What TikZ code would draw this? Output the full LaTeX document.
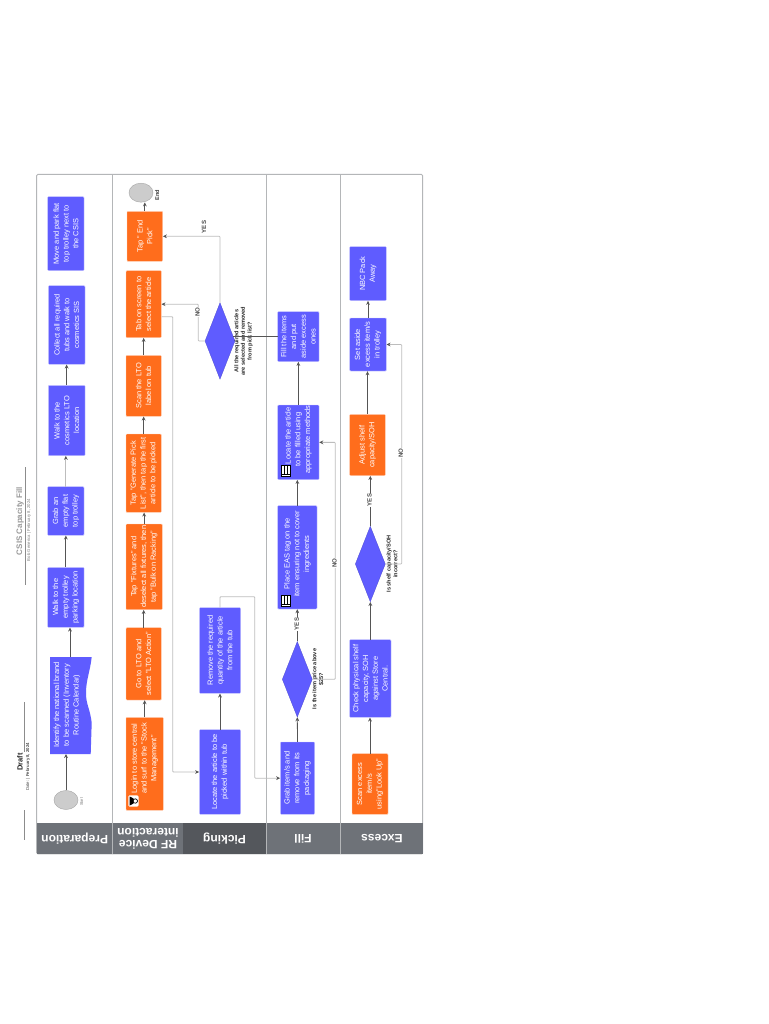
\documentclass[tikz,border=0pt]{standalone}
\usepackage{fontspec}
\setmainfont{Liberation Sans}
\usetikzlibrary{arrows.meta,shapes.geometric}
\definecolor{bluebox}{HTML}{5F5CFF}
\definecolor{orangebox}{HTML}{FF6D1C}
\definecolor{headgrey}{HTML}{6E7278}
\definecolor{headdark}{HTML}{54575C}
\definecolor{lanegrey}{HTML}{B4B6B8}
\definecolor{linegrey}{HTML}{555555}
\definecolor{lightline}{HTML}{BDBDBD}
\newcommand{\pbox}[7]{% name, style, x0,y0,x1,y1, text
  \node[#2,minimum width={(#6-#4)*0.75pt},minimum height={(#5-#3)*0.75pt}] (#1) at ({(#3+#5)/2},{(#4+#6)/2}) {#7};}
\tikzset{
  x=0.75pt,y=-0.75pt,
  boxbase/.style={rectangle,rounded corners=0.6pt,draw=white!70!bluebox,line width=0.3pt,rotate=90,align=center,text=white,font=\fontsize{5.6}{7.3}\selectfont,inner sep=0pt},
  bluenode/.style={boxbase,fill=bluebox},
  orangenode/.style={boxbase,fill=orangebox,draw=white!70!orangebox},
  decision/.style={diamond,aspect=0.4,fill=bluebox,draw=bluebox!80!black,line width=0.2pt,inner sep=0pt,shape aspect=0.39},
  terminal/.style={ellipse,fill=black!20,draw=black!35,line width=0.3pt,inner sep=0pt,minimum width=24*0.75pt,minimum height=19*0.75pt},
  flow/.style={draw=linegrey,line width=0.6pt,-{Stealth[length=3pt,width=2.8pt]},rounded corners=0.6pt},
  flowlight/.style={draw=lightline,line width=0.6pt,-{Stealth[length=3pt,width=2.8pt,color=linegrey]},rounded corners=0.6pt},
  note/.style={rotate=90,align=center,font=\bfseries\fontsize{4.2}{5}\selectfont,text=black!85,inner sep=0pt},
  lab/.style={rotate=90,font=\bfseries\fontsize{4.6}{5.5}\selectfont,text=black!70,inner sep=0.5pt,fill=white},
  head/.style={rectangle,rotate=180,align=center,text=white,font=\bfseries\fontsize{9}{9}\selectfont,inner sep=0pt},
  lane/.style={draw=lanegrey,line width=0.7pt},
  listicon/.style={rectangle,draw=black,fill=white,line width=0.6pt,minimum width=9*0.75pt,minimum height=10.5*0.75pt,inner sep=0pt},
}
\begin{document}
\begin{tikzpicture}
\useasboundingbox[fill=white] (0,0) rectangle (768,1024);
% lanes
\draw[lane,rounded corners=1pt] (36.7,174.3) rectangle (422.7,854);
\draw[lane] (112.7,174.3) -- (112.7,854);
\draw[lane] (266,174.3) -- (266,854);
\draw[lane] (340.7,174.3) -- (340.7,854);
% headers
\fill[headgrey] (37,823) rectangle (112.3,854);
\fill[headgrey] (113.3,823) rectangle (182.5,854);
\fill[headdark] (183.3,823) rectangle (265.7,854);
\fill[headgrey] (266.5,823) rectangle (340.3,854);
\fill[headgrey] (341.2,823) rectangle (422.5,854);
\node[head] (hprep) at (74.7,838.5) {Preparation};
\node[head] (hrf) at (148,838.5) {RF Device\\interaction};
\node[head] (hpick) at (224.5,838.5) {Picking};
\node[head] (hfill) at (303,838.5) {Fill};
\node[head] (hexc) at (382,838.5) {Excess};
% title block
\draw[black!45,line width=0.3pt] (25,467) -- (25,585);
\draw[black!45,line width=0.3pt] (24,702) -- (24,752);
\draw[black!45,line width=0.3pt] (24,810) -- (24,840);
\node[rotate=90,font=\bfseries\fontsize{6}{8}\selectfont,text=black!40,inner sep=0pt] (title) at (20,521) {CSIS Capacity Fill};
\node[rotate=90,font=\fontsize{3.2}{4}\selectfont,text=black!50,inner sep=0pt] (sub) at (29,530) {Bob Generica | February 8, 2024};
\node[rotate=90,font=\bfseries\fontsize{5.6}{7}\selectfont,text=black!85,inner sep=0pt] (draft) at (20,762) {Draft};
\node[rotate=90,font=\fontsize{3.2}{4}\selectfont,text=black!70,inner sep=0pt] (date) at (28,767) {Date: | \textbf{February 8, 2024}};
% Preparation
\node[terminal] (start) at (66,800) {};
\node[rotate=90,font=\fontsize{2.8}{3}\selectfont,text=black!60,inner sep=0pt] (startl) at (81.7,801.7) {Start};
\fill[bluebox] (50,754) -- (90.7,754) -- (91.7,723) .. controls (90,708) and (86,705) .. (86,693) .. controls (86,680) and (90,672) .. (91.7,657) -- (50,657) -- cycle;
\coordinate (doctop) at (70,657);
\coordinate (docbot) at (66,754);
\node[rotate=90,align=center,text=white,font=\fontsize{5.6}{7.3}\selectfont,inner sep=0pt] (doc) at (67,705) {Identify the national brand\\to be scanned (Inventory\\Routine Calendar)};
\pbox{walkempty}{bluenode}{47.7}{567.3}{84}{627.3}{Walk to the\\empty trolley\\parking location}
\pbox{grab}{bluenode}{47.7}{486.7}{84}{535.3}{Grab an\\empty flat\\top trolley}
\pbox{walklto}{bluenode}{48.3}{385.3}{85}{455.7}{Walk to the\\cosmetics LTO\\location}
\pbox{collect}{bluenode}{48.3}{285.7}{85}{364.3}{Collect all required\\tubs and walk to\\cosmetics SIS}
\pbox{move}{bluenode}{47.7}{196.7}{84}{270.7}{Move and park flat\\top trolley next to\\the CSIS}
% RF
\pbox{login}{orangenode}{126}{717.3}{163.3}{810.3}{\hspace*{8pt}Login to store central\\\hspace*{8pt}and surf to the "Stock\\\hspace*{8pt}Management"}
\pbox{goto}{orangenode}{126}{627.7}{161.3}{700}{Go to LTO and\\select "LTO Action"}
\pbox{fixtures}{orangenode}{126}{524}{162.3}{609.7}{Tap "Fixtures" and\\deselect all fixtures, then\\tap "Bulk on Racking"}
\pbox{generate}{orangenode}{126}{434}{161.3}{512.3}{Tap "Generate Pick\\List", then tap the first\\article to be picked}
\pbox{scan}{orangenode}{126}{355.3}{161.3}{416.3}{Scan the LTO\\label on  tub}
\pbox{tapscreen}{orangenode}{126}{270.7}{161.3}{337.7}{Tab on screen to\\select the article}
\pbox{endpick}{orangenode}{127}{211.3}{162.7}{261.3}{Tap " End\\Pick"}
\node[terminal] (endn) at (141,192.7) {};
\node[rotate=90,font=\bfseries\fontsize{4.2}{5}\selectfont,text=black!75,inner sep=0pt] (endl) at (157,195) {End};
% person icon
\fill[white,rounded corners=1pt] (128.3,795.3) rectangle (138.5,806.7);
\fill[black] (129.5,796.5) .. controls (131,797) and (133,798) .. (134,799) -- (134,803) .. controls (133,804) and (131,805) .. (129.5,805.5) -- cycle;
\draw[black,fill=white,line width=0.5pt] (135.3,801) circle[radius=2.2];
% Picking
\pbox{locate}{bluenode}{199.3}{729.7}{240.7}{814.3}{Locate the article to be\\picked within tub}
\pbox{remove}{bluenode}{199.3}{607.7}{240.7}{693.3}{Remove the required\\quantity of the article\\from the tub}
\node[decision,minimum width=30*0.75pt,minimum height=76.6*0.75pt] (d1) at (220,341) {};
\node[note] (d1l) at (243.5,341) {All the required articles\\are selected and removed\\from pick list?};
% Fill
\pbox{graba}{bluenode}{280.3}{742}{314.7}{814.3}{Grab item/s and\\remove from its\\packaging}
\node[decision,minimum width=30*0.75pt,minimum height=75.6*0.75pt] (d2) at (297.3,679.3) {};
\node[note] (d2l) at (318,679) {Is the item price above\\\$25?};
\pbox{place}{bluenode}{277.7}{505.7}{317}{609}{\hspace*{5pt}Place EAS tag on the\\\hspace*{5pt}item ensuring not to cover\\\hspace*{5pt}ingredients}
\pbox{locf}{bluenode}{277.7}{405}{319}{479.7}{\hspace*{10pt}Locate the article\\\hspace*{4pt}to be filled using\\\hspace*{4pt}appropriate methods}
\pbox{fillit}{bluenode}{277.7}{311.7}{319}{361.7}{Fill the items\\and put\\aside excess\\ones}
\node[listicon] (ic1) at (286,600.7) {};
\node[listicon] (ic2) at (286,471) {};
\draw[black,line width=0.7pt] (284.5,596) -- (284.5,604) (287.5,596) -- (287.5,604) (281.5,604) -- (290.5,604);
\draw[black,line width=0.7pt] (284.5,466.3) -- (284.5,474.3) (287.5,466.3) -- (287.5,474.3) (281.5,474.3) -- (290.5,474.3);
% Excess
\pbox{scanex}{orangenode}{352}{753.7}{388}{814.3}{Scan excess\\item/s\\using"Look Up"}
\pbox{check}{bluenode}{349.7}{639.7}{391}{717.3}{Check physical shelf\\capacity, SOH\\against Store\\Central.}
\node[decision,minimum width=30*0.75pt,minimum height=75.6*0.75pt] (d3) at (370.3,564) {};
\node[note] (d3l) at (392,564) {Is shelf capacity/SOH\\incorrect?};
\pbox{adjust}{orangenode}{349.7}{414.3}{385.3}{475.7}{Adjust shelf\\capacity/SOH}
\pbox{setaside}{bluenode}{349.7}{318}{386.3}{371}{Set aside\\excess item/s\\in trolley}
\pbox{nbc}{bluenode}{349.7}{246.7}{386.3}{300.7}{NBC Pack\\Away}
% bend points
\coordinate (ts) at (172.7,316.7);
\coordinate (r1) at (254.7,596.7);
\coordinate (n1) at (335.3,679.3);
\coordinate (w1) at (198.3,341);
\coordinate (n3) at (401.7,564);
% connectors
\draw[flow] (start.north) -- (docbot);
\draw[flow] (doctop) -- (doctop |- walkempty.west);
\draw[flow] (walkempty.east) -- (walkempty.east |- grab.west);
\draw[flowlight] (grab.east) -- (grab.east |- walklto.west);
\draw[flow] (walklto.east) -- (walklto.east |- collect.west);
\draw[flow] (login.east) -- (login.east |- goto.west);
\draw[flow] (goto.east) -- (goto.east |- fixtures.west);
\draw[flow] (fixtures.east) -- (fixtures.east |- generate.west);
\draw[flow] (generate.east) -- (generate.east |- scan.west);
\draw[flow] (scan.east) -- (scan.east |- tapscreen.west);
\draw[flow] (endpick.east) -- (endpick.east |- endn.south);
\draw[flowlight] (tapscreen.south |- ts) -- (ts) -- (ts |- locate.north) -- (locate.north);
\draw[flow] (locate.east) -- (remove.west);
\draw[flowlight] (remove.east) -- (remove.east |- r1) -- (r1) -- (r1 |- graba.north) -- (graba.north);
\draw[flow] (graba.east) -- (d2.south);
\draw[flow] (d2.north) -- (d2.north |- place.west);
\draw[flow] (place.east) -- (place.east |- locf.west);
\draw[flow] (locf.east) -- (locf.east |- fillit.west);
\draw[flowlight] (d2.east) -- (n1) -- (n1 |- locf.south) -- (locf.south);
\draw[draw=linegrey,line width=0.6pt,shorten >=-1.5pt] (fillit.north) -- (fillit.north -| d1.east);
\draw[flowlight] (d1.north) -- (d1.north |- endpick.south) -- (endpick.south);
\draw[flowlight] (d1.west) -- (w1) -- (w1 |- tapscreen.south) -- (tapscreen.south);
\draw[flow] (scanex.east) -- (scanex.east |- check.west);
\draw[flow] (check.east) -- (check.east |- d3.south);
\draw[flow] (d3.north) -- (d3.north |- adjust.west);
\draw[flow] (adjust.east) -- (adjust.east |- setaside.west);
\draw[flow] (setaside.east) -- (setaside.east |- nbc.west);
\draw[flowlight] (d3.east) -- (n3) -- (n3 |- setaside.south) -- (setaside.south);
% labels
\node[lab] (ly1) at (296.7,624) {YES};
\node[lab] (ln1) at (334.5,563) {NO};
\node[lab] (ly2) at (204,227) {YES};
\node[lab] (ln2) at (197.5,312) {NO};
\node[lab] (ly3) at (369.5,500) {YES};
\node[lab] (ln3) at (400.7,453) {NO};
\end{tikzpicture}
\end{document}
